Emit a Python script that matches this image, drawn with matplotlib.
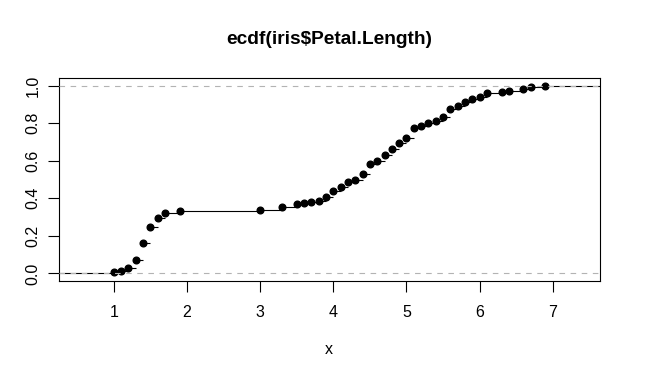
import numpy as np
from matplotlib import pyplot as plt

## Dati (valori unici di Petal.Length e Fn(x))

petal_len = [1.0, 1.1, 1.2, 1.3, 1.4, 1.5, 1.6, 1.7, 1.9, 3.0, 3.3, 3.5, 3.6, 3.7, 3.8, 3.9,
             4.0, 4.1, 4.2, 4.3, 4.4, 4.5, 4.6, 4.7, 4.8, 4.9, 5.0, 5.1, 5.2, 5.3, 5.4, 5.5,
             5.6, 5.7, 5.8, 5.9, 6.0, 6.1, 6.3, 6.4, 6.6, 6.7, 6.9]
fn = [0.007, 0.013, 0.027, 0.073, 0.160, 0.247, 0.293, 0.320, 0.333, 0.340, 0.353, 0.367,
      0.373, 0.380, 0.387, 0.407, 0.440, 0.460, 0.487, 0.500, 0.527, 0.580, 0.600, 0.633,
      0.660, 0.693, 0.720, 0.773, 0.787, 0.800, 0.813, 0.833, 0.873, 0.893, 0.913, 0.927,
      0.940, 0.960, 0.967, 0.973, 0.980, 0.993, 1.000]
x_ticks = [1, 2, 3, 4, 5, 6, 7]
y_ticks = [0.0, 0.2, 0.4, 0.6, 0.8, 1.0]
y_tick_labels = ["0.0", "0.2", "0.4", "0.6", "0.8", "1.0"]

plt.rcParams['font.family'] = ['Liberation Sans', 'DejaVu Sans']

## Figura

fig = plt.figure(figsize=(6.6, 3.79), dpi=100)
ax = fig.add_axes([59.3 / 660, 1 - 281 / 379, (600 - 59.3) / 660, (281 - 78) / 379])

xlim = (0.254, 7.646)
ax.set_xlim(xlim)
ax.set_ylim(-0.04, 1.04)

## Gradini

x = np.array(petal_len)
y = np.array(fn)
x_next = np.append(x[1:], xlim[1] + 1)
ax.hlines(y, x, x_next, colors='black', linewidth=0.8, zorder=2)
ax.hlines(0, xlim[0] - 1, x[0], colors='black', linewidth=0.8, zorder=2)
ax.plot(x, y, 'o', color='black', markersize=4.8, zorder=3)

## Linee a 0 e 1

for h in [0, 1]:
    ax.axhline(h, color='#B3B3B3', linewidth=0.8, linestyle=(0, (5, 5)), zorder=4)

## Assi

ax.set_xticks(x_ticks)
ax.set_xticklabels([str(t) for t in x_ticks])
ax.set_yticks(y_ticks)
ax.set_yticklabels(y_tick_labels, rotation=90, va='center')
ax.tick_params(axis='both', direction='out', length=7.6, width=0.8, labelsize=11.5,
               colors='black')
ax.tick_params(axis='x', pad=9.5)
ax.tick_params(axis='y', pad=5.8)
for sp in ax.spines.values():
    sp.set_linewidth(0.8)
    sp.set_color('black')

## Testi

fig.text(329 / 660, 1 - 40 / 379, "ecdf(iris$Petal.Length)", ha='center', va='center',
         fontsize=13.8, fontweight='bold')
fig.text(329 / 660, 1 - 350 / 379, "x", ha='center', va='center', fontsize=11.5)
fig.text(-12 / 660, 1 - 180 / 379, "Fn(x)", ha='center', va='center', fontsize=11.5,
         rotation=90)

plt.savefig("out.png", dpi=100)
